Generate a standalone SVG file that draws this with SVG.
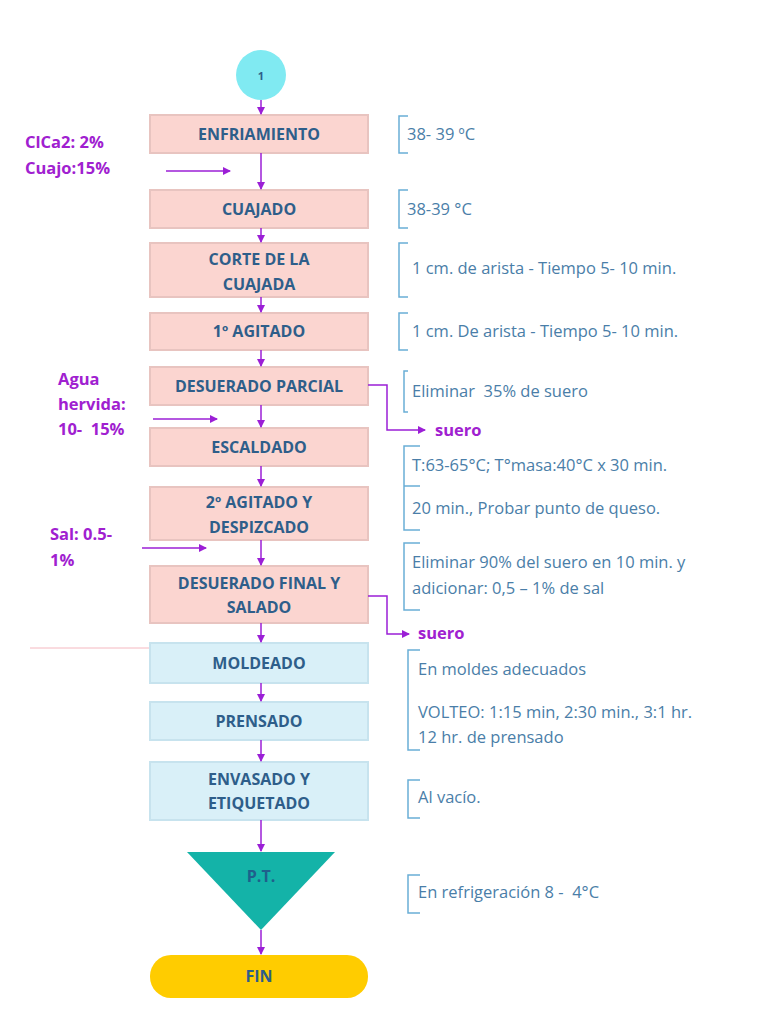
<svg xmlns="http://www.w3.org/2000/svg" width="768" height="1024" viewBox="0 0 768 1024">
<defs>
<marker id="ah" markerWidth="8" markerHeight="8" refX="7" refY="4" orient="auto" markerUnits="userSpaceOnUse"><path d="M0,0 L8,4 L0,8 Z" fill="#9b1fd6"/></marker>
<style>
.p{fill:#fbd5d0;stroke:#e8c4c0;stroke-width:2}
.b{fill:#d9f0f8;stroke:#c7e3ee;stroke-width:2}
.t{font-family:"Open Sans","Liberation Sans",sans-serif;font-weight:bold;font-size:16px;fill:#2e5e8a;text-anchor:middle}
.a{font-family:"Open Sans","Liberation Sans",sans-serif;font-size:16.5px;fill:#4a7ea8}
.m{font-family:"Open Sans","Liberation Sans",sans-serif;font-weight:bold;font-size:16.5px;fill:#a020d0;white-space:pre}
.c{stroke:#9b1fd6;stroke-width:1.5;fill:none;marker-end:url(#ah)}
.br{stroke:#6aaed6;stroke-width:1.5;fill:none}
</style>
</defs>
<rect width="768" height="1024" fill="#fff"/>
<line x1="30" y1="648" x2="205" y2="648" stroke="#f5b8c0" stroke-width="1"/>
<g id="n0"><circle cx="261" cy="75" r="25" fill="#80eaf2"/><text x="261" y="80" class="t" style="font-size:11px">1</text></g>
<g id="n1"><rect x="150" y="115" width="218" height="38" class="p"/><text x="259" y="140" class="t">ENFRIAMIENTO</text></g>
<g id="n2"><rect x="150" y="190" width="218" height="38" class="p"/><text x="259" y="215" class="t">CUAJADO</text></g>
<g id="n3"><rect x="150" y="243" width="218" height="54" class="p"/><text x="259" y="265" class="t">CORTE DE LA</text><text x="259" y="290" class="t">CUAJADA</text></g>
<g id="n4"><rect x="150" y="313" width="218" height="37" class="p"/><text x="259" y="337" class="t">1º AGITADO</text></g>
<g id="n5"><rect x="150" y="367" width="218" height="38" class="p"/><text x="259" y="392" class="t">DESUERADO PARCIAL</text></g>
<g id="n6"><rect x="150" y="428" width="218" height="38" class="p"/><text x="259" y="453" class="t">ESCALDADO</text></g>
<g id="n7"><rect x="150" y="487" width="218" height="53" class="p"/><text x="259" y="508" class="t">2º AGITADO Y</text><text x="259" y="533" class="t">DESPIZCADO</text></g>
<g id="n8"><rect x="150" y="566" width="218" height="57" class="p"/><text x="259" y="589" class="t">DESUERADO FINAL Y</text><text x="259" y="613" class="t">SALADO</text></g>
<g id="n9"><rect x="150" y="643" width="218" height="40" class="b"/><text x="259" y="669" class="t">MOLDEADO</text></g>
<g id="n10"><rect x="150" y="702" width="218" height="38" class="b"/><text x="259" y="727" class="t">PRENSADO</text></g>
<g id="n11"><rect x="150" y="762" width="218" height="58" class="b"/><text x="259" y="785" class="t">ENVASADO Y</text><text x="259" y="809" class="t">ETIQUETADO</text></g>
<g id="n12"><polygon points="187,852 335,852 261,930" fill="#14b3a8"/><text x="261" y="882" class="t" style="fill:#1f5f8c">P.T.</text></g>
<g id="n13"><rect x="150" y="955" width="218" height="43" rx="21" fill="#ffcc00"/><text x="259" y="982" class="t">FIN</text></g>
<g id="connectors">
<line x1="261" y1="100" x2="261" y2="114" class="c"/>
<line x1="261" y1="153" x2="261" y2="189" class="c"/>
<line x1="261" y1="228" x2="261" y2="242" class="c"/>
<line x1="261" y1="297" x2="261" y2="312" class="c"/>
<line x1="261" y1="350" x2="261" y2="366" class="c"/>
<line x1="261" y1="405" x2="261" y2="427" class="c"/>
<line x1="261" y1="466" x2="261" y2="486" class="c"/>
<line x1="261" y1="540" x2="261" y2="565" class="c"/>
<line x1="261" y1="623" x2="261" y2="642" class="c"/>
<line x1="261" y1="683" x2="261" y2="701" class="c"/>
<line x1="261" y1="740" x2="261" y2="761" class="c"/>
<line x1="261" y1="820" x2="261" y2="851" class="c"/>
<line x1="261" y1="930" x2="261" y2="954" class="c"/>
<line x1="166" y1="171" x2="230" y2="171" class="c"/>
<line x1="153" y1="419" x2="217" y2="419" class="c"/>
<line x1="142" y1="548" x2="206" y2="548" class="c"/>
<polyline points="368,385 387,385 387,430 425,430" class="c"/>
<polyline points="368,596 387,596 387,634 409,634" class="c"/>
</g>
<g id="inputs">
<text x="25" y="148" class="m">ClCa2: 2%</text>
<text x="25" y="174" class="m">Cuajo:15%</text>
<text x="58" y="385" class="m">Agua</text>
<text x="58" y="410" class="m">hervida:</text>
<text x="58" y="435" class="m">10-  15%</text>
<text x="50" y="540" class="m">Sal: 0.5-</text>
<text x="50" y="566" class="m">1%</text>
<text x="435" y="436" class="m">suero</text>
<text x="418" y="639" class="m">suero</text>
</g>
<g id="notes">
<path d="M408,116 H399 V153 H408" class="br"/><text x="407" y="140" class="a">38- 39 ºC</text>
<path d="M408,190 H399 V228 H408" class="br"/><text x="407" y="215" class="a">38-39 °C</text>
<path d="M408,243 H399 V297 H408" class="br"/><text x="412" y="274" class="a">1 cm. de arista - Tiempo 5- 10 min.</text>
<path d="M408,313 H399 V350 H408" class="br"/><text x="412" y="337" class="a">1 cm. De arista - Tiempo 5- 10 min.</text>
<path d="M408,371 H404 V412 H408" class="br"/><text x="412" y="397" class="a" style="white-space:pre">Eliminar  35% de suero</text>
<path d="M420,446 H404 V530 H420 M404,486 H420" class="br"/><text x="412" y="471" class="a">T:63-65°C; T°masa:40°C x 30 min.</text>
<text x="412" y="514" class="a">20 min., Probar punto de queso.</text>
<path d="M420,543 H404 V610 H420" class="br"/><text x="412" y="568" class="a">Eliminar 90% del suero en 10 min. y</text><text x="412" y="594" class="a">adicionar: 0,5 – 1% de sal</text>
<path d="M420,650 H408 V750 H420" class="br"/><text x="418" y="675" class="a">En moldes adecuados</text>
<text x="418" y="718" class="a">VOLTEO: 1:15 min, 2:30 min., 3:1 hr.</text><text x="418" y="743" class="a">12 hr. de prensado</text>
<path d="M420,780 H408 V818 H420" class="br"/><text x="418" y="803" class="a">Al vacío.</text>
<path d="M420,875 H408 V913 H420" class="br"/><text x="418" y="898" class="a" style="white-space:pre">En refrigeración 8 -  4°C</text>
</g>
</svg>
